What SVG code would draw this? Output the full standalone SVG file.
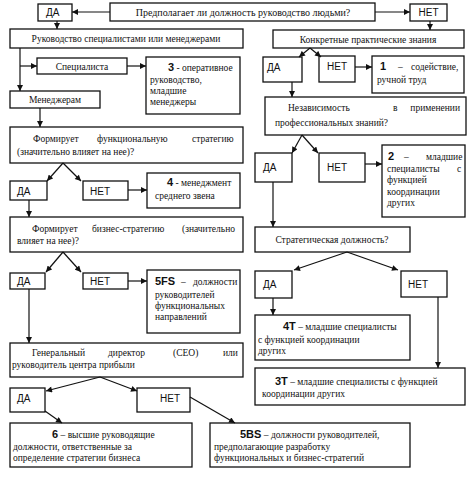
<svg xmlns="http://www.w3.org/2000/svg" width="474" height="477" viewBox="0 0 474 477">
<defs>
<marker id="ah" viewBox="0 0 10 10" refX="10" refY="5" markerWidth="7" markerHeight="6" markerUnits="userSpaceOnUse" orient="auto"><path d="M0,0 L10,5 L0,10 z" fill="#111"/></marker>
</defs>
<style>
.b{fill:#fff;stroke:#111;stroke-width:1.3}
.t{font-family:"Liberation Serif","Times New Roman",serif;font-size:9.5px;fill:#111}
.s{font-family:"Liberation Sans",Arial,sans-serif;font-size:10px;fill:#111}
.n{font-family:"Liberation Sans",Arial,sans-serif;font-size:11px;font-weight:bold}
.c{text-anchor:middle}
.l{fill:none;stroke:#111;stroke-width:1.2}
.a{marker-end:url(#ah)}
</style>
<rect width="474" height="477" fill="#fff"/>

<g id="q1"><rect class="b" x="110" y="3" width="265" height="18"/><text class="t c" x="243" y="16" style="font-size:10px">Предполагает ли должность руководство людьми?</text></g>
<g id="da1"><rect class="b" x="38" y="4" width="34" height="17"/><text class="s" x="46" y="16">ДА</text></g>
<g id="net1"><rect class="b" x="410" y="4" width="37" height="17"/><text class="s c" x="428.5" y="16">НЕТ</text></g>

<g id="rukovodstvo"><rect class="b" x="10" y="29" width="233" height="19"/><text class="t c" x="126" y="42">Руководство специалистами или менеджерами</text></g>
<g id="konkretnye"><rect class="b" x="273" y="30" width="191" height="18"/><text class="t c" x="368" y="43">Конкретные практические знания</text></g>

<g id="specialista"><rect class="b" x="37" y="58" width="90" height="16"/><text class="t c" x="82" y="70">Специалиста</text></g>
<g id="r3"><rect class="b" x="146" y="57" width="94" height="57"/>
<text class="t" x="168" y="71"><tspan class="n">3</tspan> - оперативное</text>
<text class="t" x="150" y="83">руководство,</text>
<text class="t" x="150" y="94">младшие</text>
<text class="t" x="150" y="105">менеджеры</text></g>
<g id="menedzheram"><rect class="b" x="10" y="91" width="90" height="17"/><text class="t c" x="55" y="103">Менеджерам</text></g>

<g id="da2"><rect class="b" x="263" y="57" width="39" height="25"/><text class="s" x="267" y="71">ДА</text></g>
<g id="net2"><rect class="b" x="319" y="56" width="36" height="26"/><text class="s" x="327" y="70">НЕТ</text></g>
<g id="r1"><rect class="b" x="372" y="56" width="92" height="37"/>
<text class="t" x="380" y="70"><tspan class="n">1</tspan></text><text class="t" x="398" y="70">–</text><text class="t" x="411" y="70">содействие,</text>
<text class="t" x="377" y="83">ручной труд</text></g>

<g id="nezavisimost"><rect class="b" x="265" y="97" width="201" height="38"/>
<text class="t" x="288" y="111">Независимость</text><text class="t" x="393" y="111">в</text><text class="t" x="460" y="111" text-anchor="end">применении</text>
<text class="t" x="275" y="126">профессиональных знаний?</text></g>

<g id="da3"><rect class="b" x="255" y="153" width="37" height="29"/><text class="s" x="263" y="171">ДА</text></g>
<g id="net3"><rect class="b" x="319" y="153" width="46" height="29"/><text class="s" x="327" y="171">НЕТ</text></g>
<g id="r2"><rect class="b" x="382" y="145" width="83" height="72"/>
<text class="t" x="388" y="160"><tspan class="n">2</tspan></text><text class="t" x="404" y="160">–</text><text class="t" x="426" y="160">младшие</text>
<text class="t" x="387" y="172">специалисты</text><text class="t" x="457" y="172">с</text>
<text class="t" x="387" y="183">функцией</text>
<text class="t" x="387" y="195">координации</text>
<text class="t" x="387" y="206">других</text></g>

<g id="strategicheskaya"><rect class="b" x="255" y="227" width="155" height="25"/><text class="t c" x="332" y="243">Стратегическая должность?</text></g>
<g id="da4"><rect class="b" x="255" y="271" width="37" height="27"/><text class="s" x="263" y="288">ДА</text></g>
<g id="net4"><rect class="b" x="401" y="271" width="46" height="26"/><text class="s" x="408" y="288">НЕТ</text></g>
<g id="r4t"><rect class="b" x="255" y="315" width="155" height="45"/>
<text class="t" x="283" y="330"><tspan class="n">4T</tspan> – младшие специалисты</text>
<text class="t" x="258" y="343">с функцией координации</text>
<text class="t" x="258" y="354">других</text></g>
<g id="r3t"><rect class="b" x="255" y="368" width="210" height="37"/>
<text class="t" x="275" y="385"><tspan class="n">3T</tspan> – младшие специалисты с функцией</text>
<text class="t" x="262" y="397">координации других</text></g>

<g id="funkc"><rect class="b" x="10" y="127" width="233" height="36"/>
<text class="t" x="33" y="142">Формирует</text><text class="t" x="97" y="142">функциональную</text><text class="t" x="192" y="142">стратегию</text>
<text class="t" x="17" y="155">(значительно влияет на нее)?</text></g>
<g id="da5"><rect class="b" x="10" y="181" width="37" height="19"/><text class="s" x="17" y="195">ДА</text></g>
<g id="net5"><rect class="b" x="83" y="181" width="45" height="19"/><text class="s" x="90" y="195">НЕТ</text></g>
<g id="r4"><rect class="b" x="147" y="173" width="93" height="35"/>
<text class="t" x="167" y="186"><tspan class="n">4</tspan> - менеджмент</text>
<text class="t" x="155" y="199">среднего звена</text></g>

<g id="biznes"><rect class="b" x="10" y="217" width="233" height="35"/>
<text class="t" x="32" y="232">Формирует</text><text class="t" x="92" y="232">бизнес-стратегию</text><text class="t" x="182" y="232">(значительно</text>
<text class="t" x="17" y="244">влияет на нее)?</text></g>
<g id="da6"><rect class="b" x="10" y="273" width="35" height="16"/><text class="s" x="17" y="285">ДА</text></g>
<g id="net6"><rect class="b" x="83" y="273" width="45" height="16"/><text class="s" x="90" y="285">НЕТ</text></g>
<g id="r5fs"><rect class="b" x="147" y="270" width="93" height="63"/>
<text class="t" x="155" y="285"><tspan class="n">5FS</tspan></text><text class="t" x="181" y="285">–</text><text class="t" x="193" y="285">должности</text>
<text class="t" x="155" y="298">руководителей</text>
<text class="t" x="155" y="309">функциональных</text>
<text class="t" x="155" y="320">направлений</text></g>

<g id="ceo"><rect class="b" x="10" y="343" width="233" height="34"/>
<text class="t" x="32" y="356">Генеральный</text><text class="t" x="108" y="356">директор</text><text class="t" x="173" y="356">(CEO)</text><text class="t" x="223" y="356">или</text>
<text class="t" x="12" y="368">руководитель центра прибыли</text></g>
<g id="da7"><rect class="b" x="10" y="388" width="35" height="24"/><text class="s" x="17" y="402">ДА</text></g>
<g id="net7"><rect class="b" x="137" y="388" width="53" height="24"/><text class="s" x="160" y="402">НЕТ</text></g>
<g id="r6"><rect class="b" x="10" y="423" width="182" height="44"/>
<text class="t" x="52" y="438"><tspan class="n">6</tspan> – высшие руководящие</text>
<text class="t" x="13" y="450">должности, ответственные за</text>
<text class="t" x="13" y="461">определение стратегии бизнеса</text></g>
<g id="r5bs"><rect class="b" x="210" y="423" width="200" height="44"/>
<text class="t" x="240" y="438"><tspan class="n">5BS</tspan> – должности руководителей,</text>
<text class="t" x="214" y="450">предполагающие разработку</text>
<text class="t" x="214" y="461">функциональных и бизнес-стратегий</text></g>

<g id="connectors">
<line class="l a" x1="110" y1="12" x2="72" y2="12"/>
<line class="l a" x1="375" y1="12" x2="410" y2="12"/>
<line class="l a" x1="57" y1="21" x2="57" y2="29"/>
<line class="l a" x1="430" y1="21" x2="430" y2="30"/>
<line class="l a" x1="20" y1="48" x2="20" y2="91"/>
<line class="l a" x1="20" y1="66" x2="37" y2="66"/>
<line class="l a" x1="127" y1="66" x2="146" y2="66"/>
<line class="l a" x1="40" y1="108" x2="40" y2="127"/>
<line class="l a" x1="310" y1="48" x2="299" y2="57"/>
<line class="l a" x1="310" y1="48" x2="321" y2="57"/>
<line class="l a" x1="355" y1="67" x2="372" y2="67"/>
<line class="l a" x1="292" y1="82" x2="292" y2="97"/>
<line class="l a" x1="302" y1="135" x2="292" y2="153"/>
<line class="l a" x1="302" y1="135" x2="318" y2="153"/>
<line class="l a" x1="365" y1="164" x2="382" y2="164"/>
<line class="l a" x1="273" y1="182" x2="273" y2="227"/>
<line class="l a" x1="347" y1="252" x2="294" y2="270"/>
<line class="l a" x1="347" y1="252" x2="398" y2="270"/>
<line class="l a" x1="273" y1="298" x2="273" y2="315"/>
<line class="l a" x1="438" y1="297" x2="438" y2="368"/>
<line class="l a" x1="63" y1="163" x2="47" y2="181"/>
<line class="l a" x1="63" y1="163" x2="81" y2="181"/>
<line class="l a" x1="128" y1="190" x2="147" y2="190"/>
<line class="l a" x1="29" y1="200" x2="29" y2="217"/>
<line class="l a" x1="63" y1="252" x2="46" y2="272"/>
<line class="l a" x1="63" y1="252" x2="81" y2="272"/>
<line class="l a" x1="128" y1="281" x2="147" y2="281"/>
<line class="l a" x1="29" y1="289" x2="29" y2="343"/>
<line class="l a" x1="100" y1="377" x2="46" y2="391"/>
<line class="l a" x1="100" y1="377" x2="137" y2="391"/>
<line class="l a" x1="45" y1="411" x2="62" y2="423"/>
<line class="l a" x1="190" y1="397" x2="235" y2="423"/>
</g>
</svg>
